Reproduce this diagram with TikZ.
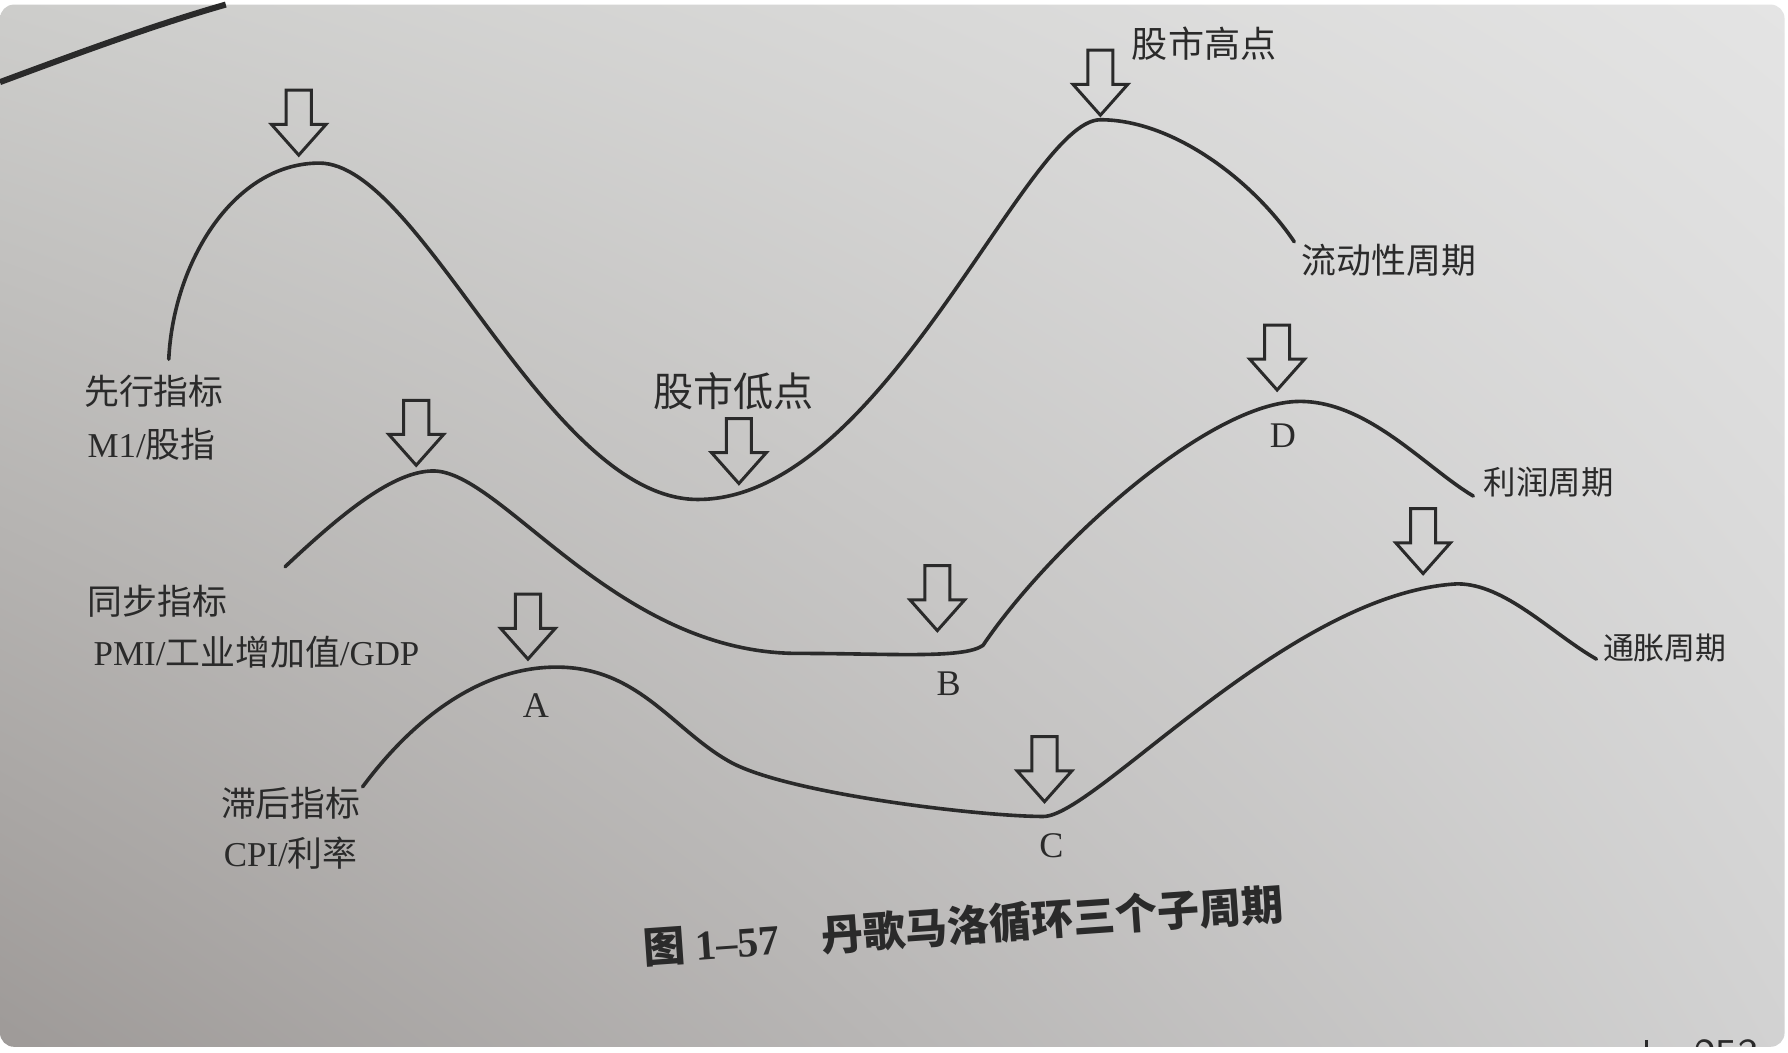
\documentclass[tikz,border=0pt]{standalone}
\usepackage{fontspec}
\setmainfont{Liberation Serif}
\newfontfamily\cjk{Noto Sans CJK SC}
\usetikzlibrary{positioning,shadings}
\newcommand{\zh}[1]{{\cjk #1}}
\definecolor{ink}{HTML}{2A2A2A}
\definecolor{paperA}{HTML}{CDCDCB}
\definecolor{paperB}{HTML}{E4E4E4}
\definecolor{paperC}{HTML}{9E9A98}
\definecolor{paperD}{HTML}{D2D2D2}
\tikzset{
	cycleline/.style={ink, line width=0.9pt, line cap=round},
	lbl/.style={ink, inner sep=0pt, font=\fontsize{8.7}{10}\selectfont},
	ptlbl/.style={ink, inner sep=0pt, font=\fontsize{9}{10}\selectfont},
	hollowarr/.pic={
		\draw[ink, line width=0.75pt, line join=miter]
			(0,0) -- (-24,-27) -- (-11,-27) -- (-11,-57) -- (11,-57) -- (11,-27) -- (24,-27) -- cycle;
	}
}

\begin{document}
\begin{tikzpicture}[x=0.01cm, y=-0.01cm]
	%%%%% PAGE %%%%%
	\useasboundingbox (0,0) rectangle (1568,923);
	\fill[white] (0,0) rectangle (1568,923);
	\shade[rounded corners=3.5pt, upper left=paperA, upper right=paperB, lower left=paperC, lower right=paperD]
		(0,4) rectangle (1565,918);
	\draw[ink, line width=1.5pt] (0,72) .. controls (70,46) and (135,22) .. (198,4);

	%%%%% LIQUIDITY %%%%%
	\draw[cycleline] (148,315) .. controls (152,230) and (205,143) .. (280,143)
		.. controls (370,143) and (480,438) .. (612,438)
		.. controls (775,438) and (900,105) .. (965,105)
		.. controls (1030,105) and (1100,160) .. (1135,212);
	\pic at (262,136) {hollowarr};
	\pic at (965,101) {hollowarr};
	\pic at (648,424) {hollowarr};

	\node[lbl] (lead) at (135,343) {\zh{先行指标}};
	\node[lbl] (leadidx) at (133,390) {M1/\zh{股指}};
	\node[lbl, font=\fontsize{10}{12}\selectfont] (lowtxt) at (643,343) {\zh{股市低点}};
	\node[lbl, font=\fontsize{9}{10}\selectfont] (hightxt) at (1056,38) {\zh{股市高点}};
	\node[lbl] (liqname) at (1218,228) {\zh{流动性周期}};

	%%%%% PROFIT %%%%%
	\draw[cycleline] (250,497) .. controls (300,450) and (345,413) .. (380,413)
		.. controls (440,413) and (540,573) .. (700,573)
		.. controls (780,573) and (845,578) .. (862,566)
		.. controls (920,480) and (1060,352) .. (1140,352)
		.. controls (1200,352) and (1250,410) .. (1292,435);
	\pic at (365,408) {hollowarr};
	\pic at (822,553) {hollowarr};
	\pic at (1120,342) {hollowarr};

	\node[ptlbl] (ptB) at (832,600) {B};
	\node[ptlbl] (ptD) at (1125,382) {D};
	\node[lbl] (coin) at (138,527) {\zh{同步指标}};
	\node[lbl] (coinidx) at (225,572) {PMI/\zh{工业增加值}/GDP};
	\node[lbl, font=\fontsize{8.1}{10}\selectfont] (profname) at (1358,423) {\zh{利润周期}};

	%%%%% INFLATION %%%%%
	\draw[cycleline] (318,690) .. controls (370,620) and (430,585) .. (488,585)
		.. controls (560,585) and (590,640) .. (640,668)
		.. controls (690,696) and (860,716) .. (915,716)
		.. controls (960,716) and (1130,520) .. (1278,512)
		.. controls (1320,512) and (1360,555) .. (1400,578);
	\pic at (463,578) {hollowarr};
	\pic at (916,703) {hollowarr};
	\pic at (1248,503) {hollowarr};

	\node[ptlbl] (ptA) at (470,619) {A};
	\node[ptlbl] (ptC) at (922,742) {C};
	\node[lbl] (lag) at (255,704) {\zh{滞后指标}};
	\node[lbl] (lagidx) at (255,748) {CPI/\zh{利率}};
	\node[lbl, font=\fontsize{7.7}{10}\selectfont] (inflname) at (1460,568) {\zh{通胀周期}};

	%%%%% CAPTION %%%%%
	\node[ink, inner sep=0pt, rotate=4, font=\bfseries\fontsize{10.5}{12}\selectfont] (caption) at (845,812)
		{\zh{图}~1–57\quad\zh{丹歌马洛循环三个子周期}};

	\begin{scope}
		\clip[rounded corners=3.5pt] (0,4) rectangle (1565,918);
		\draw[ink, line width=0.6pt] (1444,912) -- (1444,930);
		\node[ink, anchor=north, inner sep=0pt, font=\sffamily\fontsize{11}{12}\selectfont] (pageno) at (1514,911) {253};
	\end{scope}
\end{tikzpicture}
\end{document}
